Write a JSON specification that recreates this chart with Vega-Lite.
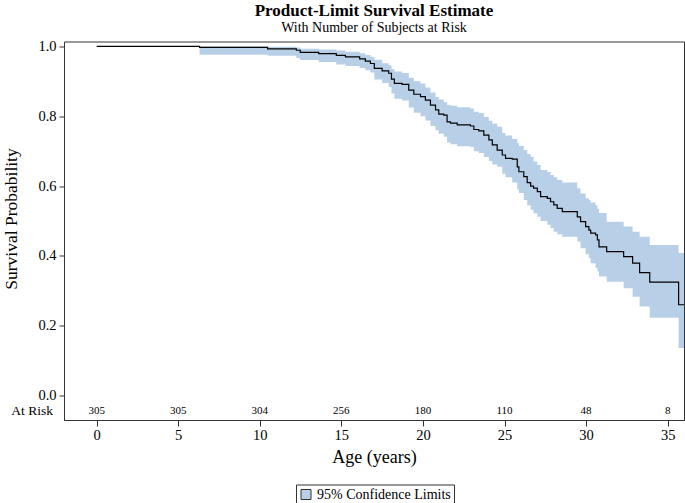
{
  "$schema": "https://vega.github.io/schema/vega-lite/v6.json",
  "width": 620,
  "height": 378.5,
  "autosize": {"type": "none"},
  "padding": {"left": 64, "top": 41.5, "right": 1, "bottom": 83},
  "background": "white",
  "config": {
    "font": "Liberation Serif",
    "view": {"stroke": "#333", "strokeWidth": 1},
    "axis": {
      "grid": false,
      "domainColor": "#333",
      "tickColor": "#333",
      "labelColor": "black",
      "titleColor": "black",
      "labelFont": "Liberation Serif",
      "titleFont": "Liberation Serif",
      "labelFontSize": 14.5,
      "titleFontSize": 18,
      "titleFontWeight": "normal"
    }
  },
  "title": {
    "text": "Product-Limit Survival Estimate",
    "subtitle": "With Number of Subjects at Risk",
    "anchor": "middle",
    "frame": "group",
    "font": "Liberation Serif",
    "fontSize": 17,
    "fontWeight": "bold",
    "color": "black",
    "subtitleFont": "Liberation Serif",
    "subtitleFontSize": 14,
    "subtitleColor": "black",
    "subtitlePadding": 1,
    "offset": 2
  },
  "datasets": {
    "km": [
      {"t": 0, "S": 1.0, "lower": null, "upper": null},
      {"t": 6.31, "S": 0.997, "lower": 0.976, "upper": 1.0},
      {"t": 10.48, "S": 0.993, "lower": 0.973, "upper": 0.999},
      {"t": 12.24, "S": 0.989, "lower": 0.966, "upper": 0.997},
      {"t": 12.48, "S": 0.983, "lower": 0.961, "upper": 0.993},
      {"t": 13.61, "S": 0.979, "lower": 0.955, "upper": 0.991},
      {"t": 14.69, "S": 0.974, "lower": 0.948, "upper": 0.988},
      {"t": 15.25, "S": 0.970, "lower": 0.944, "upper": 0.985},
      {"t": 16.12, "S": 0.964, "lower": 0.938, "upper": 0.980},
      {"t": 16.47, "S": 0.958, "lower": 0.932, "upper": 0.975},
      {"t": 16.78, "S": 0.951, "lower": 0.925, "upper": 0.970},
      {"t": 17.02, "S": 0.937, "lower": 0.905, "upper": 0.962},
      {"t": 17.50, "S": 0.930, "lower": 0.895, "upper": 0.952},
      {"t": 17.90, "S": 0.923, "lower": 0.884, "upper": 0.946},
      {"t": 18.07, "S": 0.906, "lower": 0.865, "upper": 0.935},
      {"t": 18.25, "S": 0.894, "lower": 0.850, "upper": 0.928},
      {"t": 18.72, "S": 0.891, "lower": 0.845, "upper": 0.924},
      {"t": 19.13, "S": 0.875, "lower": 0.825, "upper": 0.910},
      {"t": 19.44, "S": 0.863, "lower": 0.810, "upper": 0.900},
      {"t": 19.85, "S": 0.856, "lower": 0.800, "upper": 0.894},
      {"t": 20.15, "S": 0.846, "lower": 0.788, "upper": 0.882},
      {"t": 20.46, "S": 0.832, "lower": 0.772, "upper": 0.868},
      {"t": 20.77, "S": 0.818, "lower": 0.760, "upper": 0.855},
      {"t": 20.97, "S": 0.806, "lower": 0.750, "upper": 0.848},
      {"t": 21.28, "S": 0.803, "lower": 0.741, "upper": 0.840},
      {"t": 21.48, "S": 0.784, "lower": 0.725, "upper": 0.832},
      {"t": 21.69, "S": 0.780, "lower": 0.720, "upper": 0.830},
      {"t": 22.10, "S": 0.775, "lower": 0.714, "upper": 0.826},
      {"t": 22.91, "S": 0.772, "lower": 0.712, "upper": 0.822},
      {"t": 23.12, "S": 0.762, "lower": 0.700, "upper": 0.813},
      {"t": 23.42, "S": 0.758, "lower": 0.695, "upper": 0.809},
      {"t": 23.73, "S": 0.746, "lower": 0.683, "upper": 0.798},
      {"t": 24.04, "S": 0.732, "lower": 0.672, "upper": 0.787},
      {"t": 24.25, "S": 0.718, "lower": 0.662, "upper": 0.779},
      {"t": 24.55, "S": 0.703, "lower": 0.655, "upper": 0.770},
      {"t": 24.86, "S": 0.689, "lower": 0.635, "upper": 0.752},
      {"t": 25.06, "S": 0.679, "lower": 0.625, "upper": 0.745},
      {"t": 25.47, "S": 0.677, "lower": 0.610, "upper": 0.735},
      {"t": 25.78, "S": 0.655, "lower": 0.590, "upper": 0.723},
      {"t": 25.88, "S": 0.641, "lower": 0.580, "upper": 0.715},
      {"t": 26.18, "S": 0.627, "lower": 0.560, "upper": 0.703},
      {"t": 26.39, "S": 0.610, "lower": 0.545, "upper": 0.692},
      {"t": 26.60, "S": 0.600, "lower": 0.532, "upper": 0.684},
      {"t": 26.78, "S": 0.594, "lower": 0.522, "upper": 0.670},
      {"t": 27.01, "S": 0.584, "lower": 0.512, "upper": 0.660},
      {"t": 27.21, "S": 0.570, "lower": 0.500, "upper": 0.646},
      {"t": 27.62, "S": 0.565, "lower": 0.489, "upper": 0.640},
      {"t": 27.82, "S": 0.555, "lower": 0.480, "upper": 0.632},
      {"t": 28.02, "S": 0.546, "lower": 0.469, "upper": 0.625},
      {"t": 28.23, "S": 0.536, "lower": 0.462, "upper": 0.617},
      {"t": 28.54, "S": 0.527, "lower": 0.455, "upper": 0.610},
      {"t": 29.46, "S": 0.512, "lower": 0.441, "upper": 0.594},
      {"t": 29.66, "S": 0.498, "lower": 0.422, "upper": 0.579},
      {"t": 29.97, "S": 0.484, "lower": 0.405, "upper": 0.565},
      {"t": 30.17, "S": 0.474, "lower": 0.393, "upper": 0.560},
      {"t": 30.28, "S": 0.465, "lower": 0.379, "upper": 0.553},
      {"t": 30.58, "S": 0.460, "lower": 0.365, "upper": 0.545},
      {"t": 30.69, "S": 0.446, "lower": 0.355, "upper": 0.535},
      {"t": 30.79, "S": 0.426, "lower": 0.341, "upper": 0.523},
      {"t": 31.26, "S": 0.412, "lower": 0.326, "upper": 0.498},
      {"t": 32.30, "S": 0.398, "lower": 0.307, "upper": 0.484},
      {"t": 32.85, "S": 0.379, "lower": 0.283, "upper": 0.469},
      {"t": 33.28, "S": 0.352, "lower": 0.255, "upper": 0.455},
      {"t": 33.90, "S": 0.325, "lower": 0.223, "upper": 0.431},
      {"t": 35.67, "S": 0.260, "lower": 0.136, "upper": 0.408},
      {"t": 36.0, "S": 0.260, "lower": 0.136, "upper": 0.408}
    ],
    "risk": [
      {"t": 0, "n": "305"},
      {"t": 5, "n": "305"},
      {"t": 10, "n": "304"},
      {"t": 15, "n": "256"},
      {"t": 20, "n": "180"},
      {"t": 25, "n": "110"},
      {"t": 30, "n": "48"},
      {"t": 35, "n": "8"}
    ]
  },
  "layer": [
    {
      "data": {"name": "km"},
      "transform": [{"filter": "isValid(datum.lower)"}],
      "mark": {"type": "area", "interpolate": "step-after"},
      "encoding": {
        "x": {
          "field": "t", "type": "quantitative",
          "scale": {"domain": [-2, 36], "nice": false, "zero": false},
          "axis": {"values": [0, 5, 10, 15, 20, 25, 30, 35], "tickSize": 6, "labelPadding": 2, "title": "Age (years)", "titlePadding": 7}
        },
        "y": {
          "field": "lower", "type": "quantitative",
          "scale": {"domain": [-0.07, 1.014], "nice": false, "zero": false},
          "axis": {"values": [0, 0.2, 0.4, 0.6, 0.8, 1.0], "format": ".1f", "tickSize": 5, "labelPadding": 3, "title": "Survival Probability", "titleFontSize": 17.5, "titlePadding": 17, "titleY": 177}
        },
        "y2": {"field": "upper"},
        "fill": {
          "datum": "95% Confidence Limits",
          "type": "nominal",
          "scale": {"range": ["#b8cfe8"]},
          "legend": {
            "orient": "none",
            "legendX": 232,
            "legendY": 443,
            "title": null,
            "strokeColor": "#333",
            "padding": 3,
            "symbolType": "square",
            "symbolSize": 100,
            "symbolStrokeColor": "#333",
            "symbolStrokeWidth": 1,
            "labelFont": "Liberation Serif",
            "labelFontSize": 14,
            "labelColor": "black",
            "encode": {"symbols": {"update": {"stroke": {"value": "#333"}, "strokeWidth": {"value": 1}, "opacity": {"value": 1}}}}
          }
        }
      }
    },
    {
      "data": {"name": "km"},
      "mark": {"type": "line", "interpolate": "step-after", "color": "black", "strokeWidth": 1.2},
      "encoding": {
        "x": {"field": "t", "type": "quantitative", "title": "Age (years)"},
        "y": {"field": "S", "type": "quantitative", "title": "Survival Probability"}
      }
    },
    {
      "data": {"name": "risk"},
      "mark": {"type": "text", "fontSize": 11, "color": "black", "baseline": "middle", "font": "Liberation Serif"},
      "encoding": {
        "x": {"field": "t", "type": "quantitative", "title": "Age (years)"},
        "y": {"datum": -0.045, "type": "quantitative"},
        "text": {"field": "n"}
      }
    },
    {
      "data": {"values": [{"label": "At Risk"}]},
      "mark": {"type": "text", "fontSize": 13.5, "color": "black", "baseline": "middle", "align": "right", "dx": -11, "font": "Liberation Serif"},
      "encoding": {
        "x": {"datum": -2, "type": "quantitative"},
        "y": {"datum": -0.045, "type": "quantitative"},
        "text": {"field": "label"}
      }
    }
  ]
}
